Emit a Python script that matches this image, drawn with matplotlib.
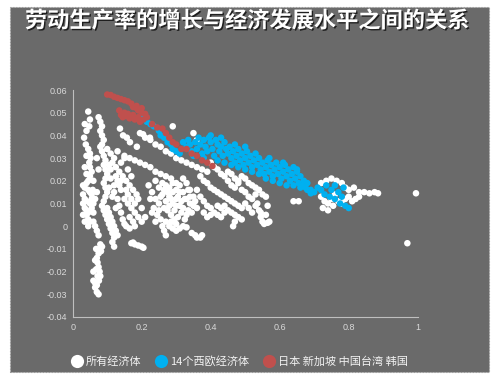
import matplotlib
matplotlib.use("Agg")
import matplotlib.pyplot as plt
from matplotlib.lines import Line2D
from matplotlib.patches import Rectangle
import matplotlib.patheffects as pe

# ---- data ----
title = "劳动生产率的增长与经济发展水平之间的关系"
labels = ["所有经济体", "14个西欧经济体", "日本 新加坡 中国台湾 韩国"]
x_ticks = [0, 0.2, 0.4, 0.6, 0.8, 1]
x_ticklabels = ["0", "0.2", "0.4", "0.6", "0.8", "1"]
y_ticks = [-0.04, -0.03, -0.02, -0.01, 0, 0.01, 0.02, 0.03, 0.04, 0.05, 0.06]
y_ticklabels = ["-0.04", "-0.03", "-0.02", "-0.01", "0", "0.01", "0.02", "0.03", "0.04", "0.05", "0.06"]

# all economies (white)
all_pts = [
    # left column
    (0.045, 0.0505), (0.05, 0.047), (0.048, 0.044), (0.04, 0.042), (0.033, 0.039), (0.038, 0.036),
    (0.045, 0.034), (0.05, 0.032), (0.052, 0.030), (0.048, 0.028), (0.05, 0.026), (0.055, 0.024),
    (0.05, 0.022), (0.045, 0.020), (0.04, 0.019), (0.03, 0.018), (0.035, 0.017), (0.045, 0.016),
    (0.05, 0.015), (0.055, 0.014), (0.03, 0.014), (0.035, 0.012), (0.04, 0.011), (0.03, 0.010),
    (0.035, 0.008), (0.04, 0.007), (0.045, 0.006), (0.04, 0.005), (0.045, 0.003), (0.05, 0.002),
    (0.045, 0.0), (0.055, 0.012), (0.06, 0.010), (0.055, 0.008), (0.06, 0.006), (0.05, 0.010),
    (0.058, 0.016), (0.06, 0.020), (0.035, 0.045), (0.04, 0.031), (0.035, 0.026), (0.04, 0.023),
    (0.03, 0.005), (0.035, 0.002), (0.06, 0.002), (0.065, 0.0), (0.065, 0.012), (0.07, 0.015),
    (0.07, 0.030), (0.075, 0.025),
    # downward spike
    (0.07, -0.002), (0.075, -0.004), (0.08, -0.008), (0.078, -0.010), (0.075, -0.012), (0.07, -0.014),
    (0.072, -0.016), (0.075, -0.018), (0.078, -0.020), (0.08, -0.022), (0.076, -0.024), (0.07, -0.026),
    (0.065, -0.025), (0.06, -0.024), (0.065, -0.027), (0.07, -0.029), (0.075, -0.030), (0.082, -0.011),
    (0.085, -0.009), (0.068, -0.019), (0.072, -0.022), (0.06, -0.020), (0.065, -0.015), (0.068, -0.010),
    # second column
    (0.075, 0.048), (0.08, 0.046), (0.085, 0.044), (0.08, 0.042), (0.085, 0.040), (0.09, 0.038),
    (0.085, 0.036), (0.08, 0.035), (0.085, 0.033), (0.09, 0.031), (0.095, 0.029), (0.09, 0.027),
    (0.095, 0.025), (0.1, 0.023), (0.095, 0.021), (0.09, 0.019), (0.095, 0.017), (0.1, 0.015),
    (0.095, 0.013), (0.09, 0.011), (0.085, 0.009), (0.09, 0.007), (0.095, 0.005), (0.1, 0.003),
    (0.105, 0.001), (0.11, -0.001), (0.115, -0.003), (0.12, -0.005), (0.115, -0.007), (0.12, -0.009),
    (0.1, 0.008), (0.105, 0.006), (0.11, 0.004), (0.115, 0.002), (0.12, 0.0), (0.125, -0.002),
    (0.13, -0.004),
    # dense block 0.1-0.2
    (0.1, 0.034), (0.11, 0.032), (0.12, 0.030), (0.13, 0.033), (0.115, 0.028), (0.125, 0.026),
    (0.135, 0.024), (0.14, 0.028), (0.15, 0.030), (0.145, 0.022), (0.155, 0.020), (0.165, 0.018),
    (0.17, 0.022), (0.16, 0.025), (0.175, 0.016), (0.185, 0.014), (0.13, 0.020), (0.12, 0.018),
    (0.11, 0.021), (0.14, 0.016), (0.15, 0.012), (0.16, 0.010), (0.17, 0.008), (0.18, 0.006),
    (0.19, 0.004), (0.13, 0.012), (0.135, 0.009), (0.14, 0.006), (0.145, 0.003), (0.15, 0.001),
    (0.155, 0.0), (0.125, 0.008), (0.165, 0.004), (0.105, 0.027), (0.11, 0.025), (0.105, 0.017),
    (0.115, 0.013), (0.12, 0.015), (0.125, 0.022), (0.135, 0.018), (0.14, 0.020), (0.155, 0.016),
    (0.16, 0.014), (0.17, 0.012), (0.18, 0.010), (0.19, 0.012), (0.2, 0.008), (0.21, 0.004),
    (0.2, 0.002), (0.18, 0.0), (0.175, 0.002), (0.165, -0.001),
    # upper diagonals
    (0.137, 0.043), (0.146, 0.040), (0.157, 0.039), (0.166, 0.037), (0.186, 0.035), (0.204, 0.0405),
    (0.224, 0.039), (0.29, 0.044), (0.35, 0.041), (0.36, 0.038),
    (0.195, 0.041), (0.21, 0.039), (0.225, 0.038), (0.24, 0.036), (0.255, 0.035), (0.27, 0.033),
    (0.285, 0.032), (0.30, 0.030), (0.315, 0.029), (0.33, 0.028), (0.345, 0.027), (0.36, 0.026),
    (0.375, 0.025), (0.39, 0.024),
    (0.15, 0.031), (0.165, 0.030), (0.18, 0.029), (0.195, 0.028), (0.21, 0.027), (0.225, 0.026),
    (0.24, 0.024), (0.255, 0.023), (0.27, 0.022), (0.285, 0.021),
    # big central cluster
    (0.22, 0.018), (0.23, 0.015), (0.24, 0.012), (0.25, 0.010), (0.235, 0.008), (0.245, 0.005),
    (0.255, 0.003), (0.26, 0.0), (0.265, -0.002), (0.27, -0.004), (0.26, 0.014), (0.27, 0.011),
    (0.28, 0.013), (0.29, 0.010), (0.3, 0.012), (0.31, 0.009), (0.275, 0.007), (0.285, 0.005),
    (0.295, 0.007), (0.305, 0.004), (0.315, 0.006), (0.325, 0.003), (0.28, 0.017), (0.29, 0.019),
    (0.3, 0.016), (0.31, 0.018), (0.32, 0.015), (0.33, 0.012), (0.34, 0.010), (0.335, 0.007),
    (0.27, 0.002), (0.28, 0.0), (0.29, 0.002), (0.3, 0.001), (0.31, -0.001), (0.32, 0.0),
    (0.26, 0.019), (0.25, 0.017), (0.24, 0.02), (0.32, 0.021), (0.33, 0.019), (0.34, 0.016),
    (0.35, 0.013), (0.225, 0.012), (0.23, 0.006), (0.24, 0.002), (0.25, 0.007), (0.255, 0.013),
    (0.265, 0.016), (0.265, 0.008), (0.275, 0.015), (0.28, 0.009), (0.285, 0.012), (0.29, 0.015),
    (0.295, 0.003), (0.3, 0.009), (0.305, 0.013), (0.31, 0.015), (0.315, 0.011), (0.32, 0.008),
    (0.325, 0.012), (0.33, 0.005), (0.335, 0.016), (0.34, 0.013), (0.345, 0.006), (0.35, 0.009),
    (0.355, 0.011), (0.36, 0.008), (0.27, 0.018), (0.3, 0.019), (0.285, 0.002), (0.3, -0.002),
    (0.29, -0.001),
    # small strands below zero
    (0.17, -0.0075), (0.18, -0.008), (0.19, -0.0085), (0.2, -0.009), (0.205, -0.0095), (0.175, -0.0072),
    (0.33, -0.0005), (0.345, -0.003), (0.355, -0.004), (0.36, -0.005), (0.37, -0.005), (0.375, -0.004),
    # middle strands
    (0.37, 0.022), (0.38, 0.020), (0.39, 0.019), (0.40, 0.017), (0.41, 0.016), (0.42, 0.015),
    (0.43, 0.014), (0.44, 0.013), (0.45, 0.012), (0.46, 0.011), (0.47, 0.010), (0.48, 0.009),
    (0.49, 0.008),
    (0.36, 0.016), (0.37, 0.013), (0.38, 0.011), (0.39, 0.009), (0.40, 0.008), (0.41, 0.006),
    (0.42, 0.005), (0.43, 0.004), (0.44, 0.006),
    (0.45, 0.020), (0.46, 0.018), (0.47, 0.017), (0.48, 0.019), (0.49, 0.016), (0.50, 0.015),
    (0.51, 0.013), (0.52, 0.012), (0.53, 0.014), (0.50, 0.010), (0.51, 0.008), (0.52, 0.006),
    (0.53, 0.009), (0.54, 0.007),
    (0.535, 0.010), (0.545, 0.004), (0.55, 0.002), (0.555, 0.001), (0.565, 0.0015), (0.57, 0.002),
    (0.545, 0.006), (0.38, 0.006), (0.39, 0.004), (0.40, 0.005), (0.42, 0.009), (0.43, 0.008),
    (0.44, 0.009), (0.45, 0.007), (0.46, 0.006), (0.47, 0.005), (0.48, 0.004), (0.49, 0.003),
    (0.465, 0.0), (0.47, 0.002), (0.56, 0.005), (0.565, 0.009),
    (0.40, 0.028), (0.41, 0.026), (0.42, 0.025), (0.43, 0.023), (0.44, 0.022), (0.45, 0.024),
    (0.46, 0.023), (0.47, 0.021), (0.48, 0.020), (0.49, 0.022), (0.50, 0.021), (0.51, 0.019),
    (0.52, 0.018), (0.53, 0.017), (0.54, 0.016), (0.55, 0.014), (0.56, 0.013),
    (0.64, 0.011), (0.655, 0.011),
    # right cluster
    (0.72, 0.019), (0.735, 0.020), (0.75, 0.021), (0.765, 0.020), (0.78, 0.019), (0.79, 0.017),
    (0.80, 0.016), (0.815, 0.017), (0.83, 0.015), (0.845, 0.015), (0.86, 0.0145), (0.875, 0.015),
    (0.885, 0.0145), (0.72, 0.013), (0.73, 0.011), (0.74, 0.010), (0.75, 0.012), (0.76, 0.014),
    (0.77, 0.011), (0.78, 0.010), (0.79, 0.012), (0.80, 0.013), (0.81, 0.011), (0.82, 0.012),
    (0.83, 0.013), (0.725, 0.008), (0.74, 0.007), (0.755, 0.009),
    (0.995, 0.0145), (0.97, -0.0075),
]

# 14 western European economies (blue)
west_pts = [
    (0.205, 0.049), (0.215, 0.046), (0.225, 0.045), (0.235, 0.044), (0.25, 0.042), (0.255, 0.040),
    (0.265, 0.039), (0.275, 0.037), (0.285, 0.036), (0.29, 0.034), (0.30, 0.033), (0.31, 0.032),
    (0.32, 0.037), (0.33, 0.035), (0.335, 0.038), (0.34, 0.036), (0.345, 0.033), (0.35, 0.031),
    (0.355, 0.037), (0.36, 0.034), (0.365, 0.039), (0.37, 0.036), (0.375, 0.032), (0.38, 0.038),
    (0.385, 0.035), (0.39, 0.033), (0.395, 0.039), (0.40, 0.037), (0.405, 0.034), (0.41, 0.031),
    (0.415, 0.038), (0.42, 0.036), (0.425, 0.033), (0.43, 0.035), (0.435, 0.031), (0.44, 0.037),
    (0.445, 0.034), (0.45, 0.032), (0.455, 0.035), (0.46, 0.030), (0.465, 0.033), (0.47, 0.028),
    (0.475, 0.031), (0.48, 0.034), (0.485, 0.029), (0.49, 0.032), (0.495, 0.027), (0.50, 0.030),
    (0.505, 0.033), (0.51, 0.028), (0.515, 0.031), (0.52, 0.026), (0.525, 0.029), (0.53, 0.032),
    (0.535, 0.027), (0.54, 0.030), (0.545, 0.025), (0.55, 0.028), (0.555, 0.023), (0.56, 0.026),
    (0.565, 0.029), (0.57, 0.024), (0.575, 0.027), (0.58, 0.022), (0.585, 0.025), (0.59, 0.028),
    (0.595, 0.023), (0.60, 0.026), (0.605, 0.021), (0.61, 0.024), (0.615, 0.027), (0.62, 0.022),
    (0.625, 0.025), (0.63, 0.020), (0.635, 0.023), (0.64, 0.026), (0.645, 0.021), (0.65, 0.024),
    (0.655, 0.019), (0.66, 0.022), (0.665, 0.018), (0.67, 0.020), (0.675, 0.017), (0.68, 0.019),
    (0.69, 0.016), (0.38, 0.030), (0.40, 0.040), (0.42, 0.029), (0.44, 0.028), (0.46, 0.027),
    (0.48, 0.026), (0.50, 0.025), (0.52, 0.024), (0.54, 0.023), (0.56, 0.021), (0.58, 0.020),
    (0.60, 0.019), (0.62, 0.018), (0.64, 0.018), (0.66, 0.017), (0.68, 0.016), (0.70, 0.015),
    (0.71, 0.017), (0.43, 0.039), (0.47, 0.036), (0.50, 0.035), (0.57, 0.030), (0.61, 0.028),
    (0.65, 0.025), (0.69, 0.0145),
    (0.72, 0.016), (0.73, 0.014), (0.735, 0.018), (0.745, 0.013), (0.75, 0.016), (0.76, 0.012),
    (0.77, 0.015), (0.775, 0.010), (0.78, 0.013), (0.79, 0.009), (0.80, 0.008), (0.76, 0.018),
    (0.785, 0.017),
]

# Japan, Singapore, Taiwan, Korea (red)
asia_pts = [
    (0.10, 0.058), (0.11, 0.0578), (0.12, 0.057), (0.13, 0.0565), (0.14, 0.056), (0.15, 0.0555),
    (0.16, 0.055), (0.17, 0.054), (0.175, 0.0525), (0.185, 0.052), (0.19, 0.051), (0.20, 0.050),
    (0.21, 0.0495), (0.215, 0.048),
    (0.135, 0.051), (0.14, 0.049), (0.145, 0.048), (0.15, 0.050), (0.155, 0.0485), (0.16, 0.0495),
    (0.165, 0.0475), (0.175, 0.049), (0.18, 0.047), (0.19, 0.048), (0.195, 0.046), (0.205, 0.047),
    (0.185, 0.053), (0.20, 0.052),
    (0.23, 0.045), (0.245, 0.0435), (0.26, 0.043), (0.27, 0.041), (0.28, 0.039), (0.29, 0.037),
    (0.30, 0.036), (0.315, 0.034), (0.33, 0.034), (0.345, 0.032), (0.36, 0.031), (0.375, 0.029),
    (0.39, 0.028), (0.405, 0.0265),
]

colors = ["#ffffff", "#00b0f0", "#c0504d"]
bg = "#6a6a6a"
txt = "#d9d9d9"

W, H = 492, 379
fig = plt.figure(figsize=(W / 100, H / 100), dpi=100)
fig.patch.set_facecolor("white")
fig.patches.append(Rectangle((10 / W, 1 - 372 / H), 479 / W, 365 / H, transform=fig.transFigure,
                             facecolor=bg, edgecolor="#9a9a9a", linestyle=":", lw=0.8, zorder=-10))

ax = fig.add_axes([72.7 / W, 1 - 317 / H, 345 / W, 227 / H])
ax.set_facecolor("none")

for pts, c in zip([all_pts, west_pts, asia_pts], colors):
    xs = [p[0] for p in pts]
    ys = [p[1] for p in pts]
    ax.scatter(xs, ys, s=22, color=c, edgecolors="none", zorder=3, clip_on=False)

ax.set_xlim(0, 1)
ax.set_ylim(-0.04, 0.06)
ax.set_xticks(x_ticks)
ax.set_xticklabels(x_ticklabels)
ax.set_yticks(y_ticks)
ax.set_yticklabels(y_ticklabels)
ax.tick_params(length=0, labelsize=6.5, colors=txt, pad=4)
for lab in ax.get_xticklabels() + ax.get_yticklabels():
    lab.set_fontfamily("Liberation Sans")
for s in ["top", "right"]:
    ax.spines[s].set_visible(False)
for s in ["left", "bottom"]:
    ax.spines[s].set_color("#bfbfbf")
    ax.spines[s].set_linewidth(0.8)

fig.text(0.503, 1 - 21 / H, title, ha="center", va="center", color="white", fontsize=16,
         fontweight="bold", family=["Noto Sans CJK SC", "DejaVu Sans"],
         path_effects=[pe.withSimplePatchShadow(offset=(1, -1), shadow_rgbFace="black", alpha=0.7)])

handles = [Line2D([], [], marker="o", linestyle="none", markersize=9.5, markerfacecolor=c,
                  markeredgecolor="none") for c in colors]
leg = fig.legend(handles, labels, loc="center", bbox_to_anchor=(240 / W, 1 - 361 / H), ncol=3,
                 frameon=False, handlelength=0.8, handletextpad=0.4, columnspacing=1.4,
                 prop={"family": ["Noto Sans CJK SC", "DejaVu Sans"], "size": 8})
for t in leg.get_texts():
    t.set_color("#f2f2f2")

fig.savefig("out.png", dpi=100, facecolor=fig.get_facecolor())
